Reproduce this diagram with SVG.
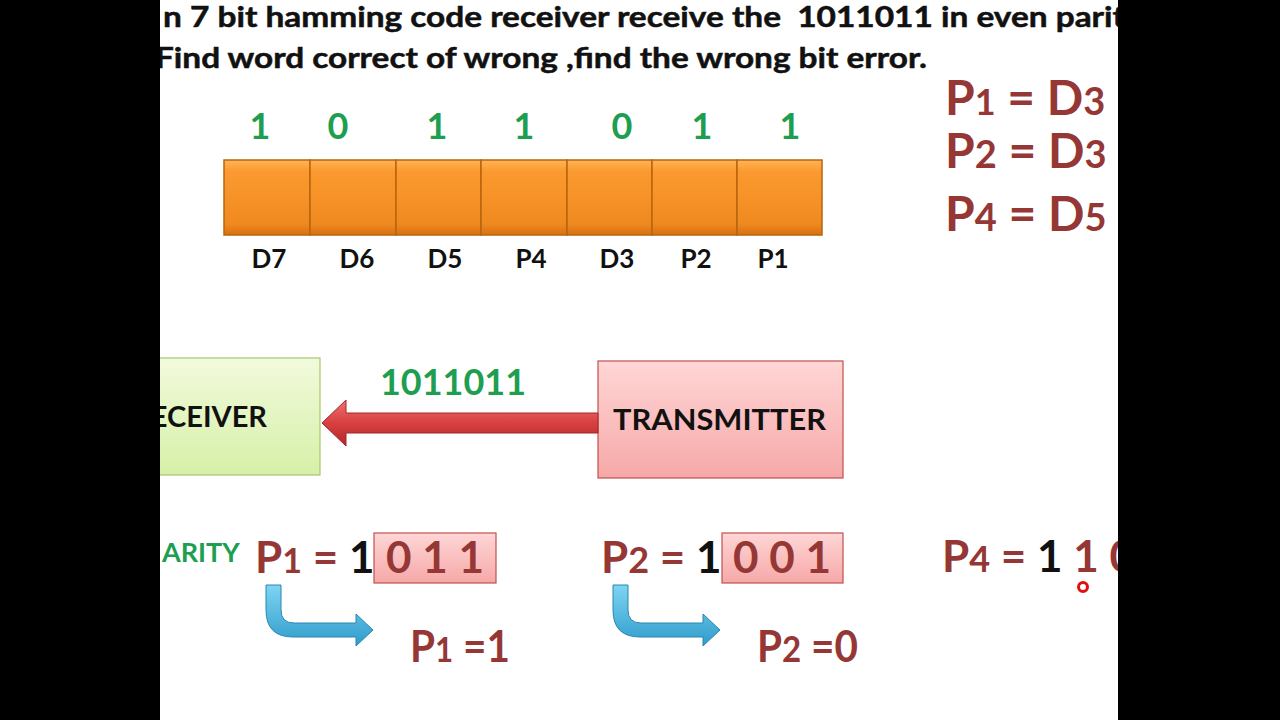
<svg xmlns="http://www.w3.org/2000/svg" width="1280" height="720" viewBox="0 0 1280 720">
<defs>
<linearGradient id="gOrange" x1="0" y1="0" x2="0" y2="1">
<stop offset="0" stop-color="#FFB458"/><stop offset="0.15" stop-color="#FB9A30"/><stop offset="0.85" stop-color="#F08A20"/><stop offset="1" stop-color="#D87010"/>
</linearGradient>
<linearGradient id="gGreen" x1="0" y1="0" x2="0" y2="1">
<stop offset="0" stop-color="#F2FADC"/><stop offset="1" stop-color="#D6F0A8"/>
</linearGradient>
<linearGradient id="gPink" x1="0" y1="0" x2="0" y2="1">
<stop offset="0" stop-color="#FFD6D6"/><stop offset="1" stop-color="#F6A8A8"/>
</linearGradient>
<linearGradient id="gRed" x1="0" y1="0" x2="0" y2="1">
<stop offset="0" stop-color="#F07070"/><stop offset="0.5" stop-color="#D84040"/><stop offset="1" stop-color="#B02828"/>
</linearGradient>
<linearGradient id="gBlue" x1="0" y1="0" x2="0" y2="1">
<stop offset="0" stop-color="#7FD4F2"/><stop offset="1" stop-color="#2E9CCB"/>
</linearGradient>
</defs>
<style>
text{font-family:"Lato","Open Sans","Liberation Sans",sans-serif;font-weight:bold;white-space:pre}
.title{font-size:28px;fill:#111;stroke:#111;stroke-width:0.5}
.bit{font-size:36px;fill:#1E9E50;text-anchor:middle}
.lab{font-size:26px;fill:#111;text-anchor:middle}
.dr{fill:#953735}
.blk{fill:#111}
.cell{fill:url(#gOrange);stroke:#B8660E;stroke-width:1.5}
.pbox{fill:url(#gPink);stroke:#C0504D;stroke-width:1.2}
.barrow{fill:url(#gBlue);stroke:#2A86B0;stroke-width:1}
</style>
<rect x="0" y="0" width="1280" height="720" fill="#fff"/>

<g id="title">
<text class="title" x="163" y="27" textLength="962" lengthAdjust="spacingAndGlyphs">n 7 bit hamming code receiver receive the  1011011 in even parit</text>
<text class="title" x="155" y="68" textLength="772" lengthAdjust="spacingAndGlyphs">Find word correct of wrong ,find the wrong bit error.</text>
</g>

<g id="bits">
<rect class="cell" x="224" y="160" width="86" height="75"/>
<rect class="cell" x="310" y="160" width="86" height="75"/>
<rect class="cell" x="396" y="160" width="85" height="75"/>
<rect class="cell" x="481" y="160" width="86" height="75"/>
<rect class="cell" x="567" y="160" width="85" height="75"/>
<rect class="cell" x="652" y="160" width="85" height="75"/>
<rect class="cell" x="737" y="160" width="85" height="75"/>
<text class="bit" x="260" y="139">1</text>
<text class="bit" x="338" y="139">0</text>
<text class="bit" x="437" y="139">1</text>
<text class="bit" x="524" y="139">1</text>
<text class="bit" x="622" y="139">0</text>
<text class="bit" x="702" y="139">1</text>
<text class="bit" x="790" y="139">1</text>
<text class="lab" x="269" y="268">D7</text>
<text class="lab" x="357" y="268">D6</text>
<text class="lab" x="445" y="268">D5</text>
<text class="lab" x="531" y="268">P4</text>
<text class="lab" x="617" y="268">D3</text>
<text class="lab" x="696" y="268">P2</text>
<text class="lab" x="773" y="268">P1</text>
</g>

<g id="equations" class="dr">
<text x="945" y="115" font-size="48"><tspan>P</tspan><tspan font-size="36">1</tspan><tspan> = D</tspan><tspan font-size="38">3</tspan></text>
<text x="945" y="168" font-size="48"><tspan>P</tspan><tspan font-size="38">2</tspan><tspan> = D</tspan><tspan font-size="38">3</tspan></text>
<text x="945" y="231" font-size="48"><tspan>P</tspan><tspan font-size="38">4</tspan><tspan> = D</tspan><tspan font-size="38">5</tspan></text>
</g>

<g id="receiver">
<rect x="140" y="358" width="180" height="117" fill="url(#gGreen)" stroke="#A6C86A" stroke-width="1.2"/>
<text x="267" y="427" font-size="29" class="blk" text-anchor="end">ECEIVER</text>
</g>

<g id="transmitter">
<rect x="598" y="361" width="245" height="117" fill="url(#gPink)" stroke="#C0504D" stroke-width="1.2"/>
<text x="613" y="430" font-size="29" class="blk" textLength="213" lengthAdjust="spacingAndGlyphs">TRANSMITTER</text>
</g>

<g id="connectors">
<path d="M598,413 L346,413 L346,400 L322,423 L346,446 L346,433 L598,433 Z" fill="url(#gRed)" stroke="#A02828" stroke-width="1"/>
<text x="380" y="395" font-size="36" fill="#1E9E50" textLength="146" lengthAdjust="spacingAndGlyphs">1011011</text>
<path class="barrow" d="M266,585 L266,610 Q266,637 293,637 L356,637 L356,646 L373,630 L356,614 L356,623 L294,623 Q281,623 281,610 L281,585 Z"/>
<path class="barrow" d="M613,585 L613,610 Q613,637 640,637 L703,637 L703,646 L720,630 L703,614 L703,623 L641,623 Q628,623 628,610 L628,585 Z"/>
</g>

<g id="parity-label">
<text x="162" y="562" font-size="27" fill="#1E9E50">ARITY</text>
</g>

<g id="p1-calc">
<rect class="pbox" x="374" y="533" width="122" height="50"/>
<text x="255" y="573" font-size="44"><tspan class="dr">P</tspan><tspan class="dr" font-size="34">1</tspan><tspan class="dr"> = </tspan><tspan class="blk">1</tspan></text>
<text x="435" y="573" font-size="44" class="dr" text-anchor="middle">0 1 1</text>
</g>

<g id="p2-calc">
<rect class="pbox" x="722" y="533" width="121" height="50"/>
<text x="601" y="573" font-size="44"><tspan class="dr">P</tspan><tspan class="dr" font-size="36">2</tspan><tspan class="dr"> = </tspan><tspan class="blk">1</tspan></text>
<text x="782" y="573" font-size="44" class="dr" text-anchor="middle">0 0 1</text>
</g>

<g id="p4-calc">
<text x="942" y="572" font-size="44"><tspan class="dr">P</tspan><tspan class="dr" font-size="36">4</tspan><tspan class="dr"> = </tspan><tspan class="blk">1 </tspan><tspan class="dr">1 0</tspan></text>
<circle cx="1083" cy="587" r="4.5" fill="none" stroke="#E01010" stroke-width="3"/>
</g>

<g id="results" class="dr">
<text x="410" y="662" font-size="44" textLength="100" lengthAdjust="spacingAndGlyphs"><tspan>P</tspan><tspan font-size="34">1</tspan><tspan> =1</tspan></text>
<text x="757" y="662" font-size="44" textLength="101" lengthAdjust="spacingAndGlyphs"><tspan>P</tspan><tspan font-size="36">2</tspan><tspan> =0</tspan></text>
</g>

<rect x="0" y="0" width="160" height="720" fill="#000"/>
<rect x="1118" y="0" width="162" height="720" fill="#000"/>
</svg>
